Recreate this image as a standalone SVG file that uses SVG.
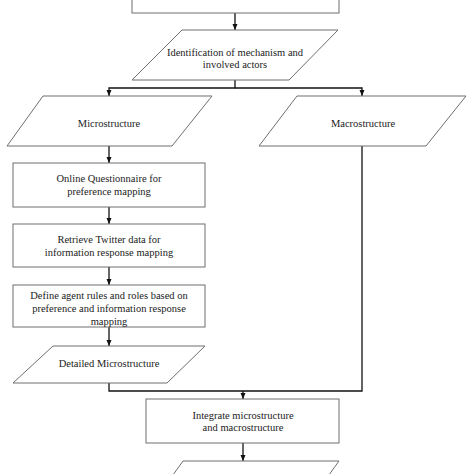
<svg xmlns="http://www.w3.org/2000/svg" width="474" height="474" viewBox="0 0 474 474">
<defs>
<marker id="ah" viewBox="0 0 6 6" refX="6" refY="3" markerWidth="6" markerHeight="6" markerUnits="userSpaceOnUse" orient="auto">
<path d="M0,0.5 L6,3 L0,5.5 Z" fill="#111"/>
</marker>
<style>
.n{fill:#fff;stroke:#6e6e6e;stroke-width:1}
.t{font-family:"Liberation Serif","Times New Roman",serif;font-size:10.5px;fill:#222;text-anchor:middle}
.c{fill:none;stroke:#111;stroke-width:1.3}
</style>
</defs>
<rect width="474" height="474" fill="#fff"/>
<g id="connectors">
<path class="c" d="M235,13 V30" marker-end="url(#ah)"/>
<path class="c" d="M235,80 V88 H109 V96" marker-end="url(#ah)"/>
<path class="c" d="M235,88 H362 V96" marker-end="url(#ah)"/>
<path class="c" d="M109,146 V163" marker-end="url(#ah)"/>
<path class="c" d="M109,207 V224" marker-end="url(#ah)"/>
<path class="c" d="M109,267 V285" marker-end="url(#ah)"/>
<path class="c" d="M109,327 V346" marker-end="url(#ah)"/>
<path class="c" d="M109,383 V391 H362 V146"/>
<path class="c" d="M243,391 V399" marker-end="url(#ah)"/>
<path class="c" d="M243,443 V461" marker-end="url(#ah)"/>
</g>
<g id="start">
<rect class="n" x="132" y="-30" width="207" height="43"/>
</g>
<g id="identification">
<polygon class="n" points="182,30 338,30 289,80 132,80"/>
<text class="t" x="235" y="56">Identification of mechanism and</text>
<text class="t" x="235" y="68">involved actors</text>
</g>
<g id="microstructure">
<polygon class="n" points="43,96 212,96 172,146 7,146"/>
<text class="t" x="109" y="127">Microstructure</text>
</g>
<g id="macrostructure">
<polygon class="n" points="297,96 466,96 426,146 259,146"/>
<text class="t" x="363" y="127">Macrostructure</text>
</g>
<g id="questionnaire">
<rect class="n" x="13" y="163" width="192" height="44"/>
<text class="t" x="109" y="182">Online Questionnaire for</text>
<text class="t" x="109" y="195">preference mapping</text>
</g>
<g id="twitter">
<rect class="n" x="13" y="224" width="192" height="43"/>
<text class="t" x="109" y="243">Retrieve Twitter data for</text>
<text class="t" x="109" y="256">information response mapping</text>
</g>
<g id="rules">
<rect class="n" x="13" y="285" width="192" height="42"/>
<text class="t" x="109" y="299">Define agent rules and roles based on</text>
<text class="t" x="109" y="312">preference and information response</text>
<text class="t" x="109" y="325">mapping</text>
</g>
<g id="detailed">
<polygon class="n" points="53,346 205,346 167,383 13,383"/>
<text class="t" x="109" y="367">Detailed Microstructure</text>
</g>
<g id="integrate">
<rect class="n" x="146" y="399" width="193" height="44"/>
<text class="t" x="243" y="419">Integrate microstructure</text>
<text class="t" x="243" y="431">and macrostructure</text>
</g>
<g id="final">
<polygon class="n" points="183,461 339,461 303,511 147,511"/>
</g>
</svg>
